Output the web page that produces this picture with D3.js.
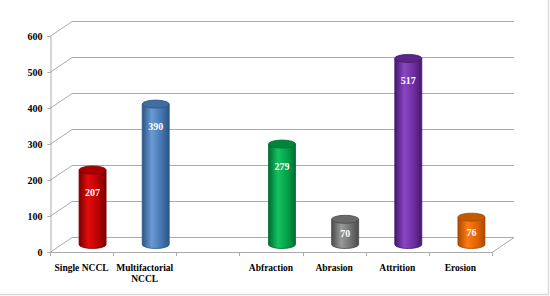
<!DOCTYPE html>
<html>
<head>
<meta charset="utf-8">
<script src="https://cdn.jsdelivr.net/npm/d3@7"></script>
<style>
  body { margin: 0; background: #fff; }
  svg text { font-family: "Liberation Serif", "Times New Roman", serif; font-weight: bold; }
</style>
</head>
<body>
<div id="chart"></div>
<script>
// data
const categories = ["Single NCCL", "Multifactorial NCCL", "", "Abfraction", "Abrasion", "Attrition", "Erosion"];
const values = [207, 390, null, 279, 70, 517, 76];
const yTicks = [0, 100, 200, 300, 400, 500, 600];
const barColors = [
  { dark: "#7a0000", mid: "#e40c0c", edge: "#b00000", top: "#a80000" },
  { dark: "#2c5584", mid: "#6a9ad4", edge: "#4272ab", top: "#3f6ea6" },
  { dark: "#006b30", mid: "#12c462", edge: "#009a45", top: "#00863c" },
  { dark: "#4a4a4a", mid: "#9a9a9a", edge: "#6c6c6c", top: "#6a6a6a" },
  { dark: "#44186a", mid: "#8a46c4", edge: "#6a2a9a", top: "#5c2688" },
  { dark: "#a84800", mid: "#ff7a12", edge: "#dc6200", top: "#c45a00" }
];

const W = 550, H = 296;
const margin = { top: 36, right: 58, bottom: 44, left: 50 };
const depth = { dx: 22, dy: 15 };

const svg = d3.select("#chart").append("svg")
  .attr("width", W).attr("height", H);

// frame on right/bottom edges
svg.append("path")
  .attr("d", `M${W - 1.5},0 V${H - 1.5} H0`)
  .attr("fill", "none").attr("stroke", "#d9d9d9").attr("stroke-width", 1.5);

const x = d3.scaleBand()
  .domain(categories.map((c, i) => i))
  .range([margin.left, W - margin.right])
  .padding(0);

const y = d3.scaleLinear()
  .domain([0, 600])
  .range([H - margin.bottom, margin.top]);

const x0 = x.range()[0], x1 = x.range()[1];
const gridColor = "#ababab";

// back wall gridlines with side diagonals
const grid = svg.append("g").attr("fill", "none").attr("stroke", gridColor).attr("stroke-width", 1);
yTicks.forEach(t => {
  const yy = Math.round(y(t)) + 0.5;
  grid.append("path")
    .attr("d", `M${x0},${yy} L${x0 + depth.dx},${yy - depth.dy} H${x1 + depth.dx}`);
});
// floor front edge and right side diagonal
grid.append("path")
  .attr("d", `M${x0},${Math.round(y(0)) + 0.5} H${x1} L${x1 + depth.dx},${Math.round(y(0)) + 0.5 - depth.dy}`);

// category boundary ticks
grid.selectAll("line.xt")
  .data(d3.range(categories.length + 1))
  .join("line")
  .attr("x1", i => Math.round(x0 + i * x.bandwidth()) + 0.5)
  .attr("x2", i => Math.round(x0 + i * x.bandwidth()) + 0.5)
  .attr("y1", Math.round(y(0)))
  .attr("y2", Math.round(y(0)) + 4);

// y axis
const yAxis = svg.append("g")
  .attr("transform", `translate(${x0 + 0.5},0)`)
  .call(d3.axisLeft(y).tickValues(yTicks).tickSize(3).tickPadding(5));
yAxis.select(".domain").attr("stroke", gridColor);
yAxis.selectAll(".tick line").attr("stroke", gridColor);
yAxis.selectAll("text").attr("font-size", 10).attr("fill", "#000");

// x labels
const xl = svg.append("g");
categories.forEach((c, i) => {
  if (!c) return;
  const words = c === "Multifactorial NCCL" ? ["Multifactorial", "NCCL"] : [c];
  const t = xl.append("text")
    .attr("x", x(i) + x.bandwidth() / 2)
    .attr("y", y(0) + 19)
    .attr("text-anchor", "middle")
    .attr("font-size", 9.5)
    .attr("fill", "#000");
  words.forEach((w, k) => t.append("tspan")
    .attr("x", x(i) + x.bandwidth() / 2)
    .attr("dy", k === 0 ? 0 : 10.5)
    .text(w));
});

// gradients
const defs = svg.append("defs");
const rx = 13.5, ry = 4;
const bars = categories.map((c, i) => ({ c, i, v: values[i] })).filter(d => d.v != null);
bars.forEach((d, k) => {
  const col = barColors[k];
  const g = defs.append("linearGradient").attr("id", "grad" + k)
    .attr("x1", "0%").attr("x2", "100%").attr("y1", "0%").attr("y2", "0%");
  g.append("stop").attr("offset", "0%").attr("stop-color", col.dark);
  g.append("stop").attr("offset", "35%").attr("stop-color", col.mid);
  g.append("stop").attr("offset", "75%").attr("stop-color", col.edge);
  g.append("stop").attr("offset", "100%").attr("stop-color", col.dark);
});

// cylinders
const cyl = svg.append("g");
bars.forEach((d, k) => {
  const col = barColors[k];
  const cx = x(d.i) + x.bandwidth() / 2 + depth.dx / 2;
  const yb = y(0) - depth.dy / 2;
  const yt = y(d.v) - depth.dy / 2;
  const g = cyl.append("g");
  g.append("path")
    .attr("d", `M${cx - rx},${yt} V${yb} A${rx},${ry} 0 0 0 ${cx + rx},${yb} V${yt} Z`)
    .attr("fill", `url(#grad${k})`)
    .attr("stroke", col.dark).attr("stroke-width", 0.8);
  g.append("ellipse")
    .attr("cx", cx).attr("cy", yt).attr("rx", rx).attr("ry", ry)
    .attr("fill", col.top)
    .attr("stroke", col.dark).attr("stroke-width", 0.8);
  // value label
  const ly = Math.min(y(d.v) + 15, (y(d.v) + y(0)) / 2 - 6);
  g.append("text")
    .attr("x", cx).attr("y", ly)
    .attr("dy", "0.35em")
    .attr("text-anchor", "middle")
    .attr("font-size", 10)
    .attr("fill", "#fff")
    .text(d.v);
});
</script>
</body>
</html>
